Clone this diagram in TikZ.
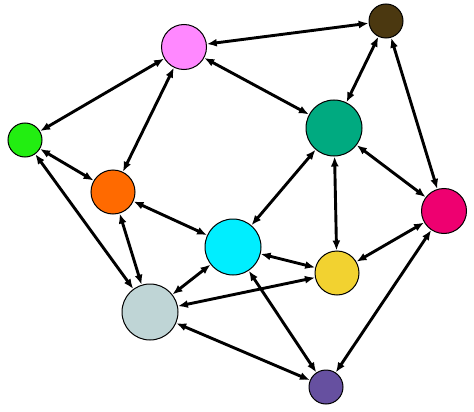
\documentclass[tikz,border=0pt]{standalone}
\usetikzlibrary{arrows.meta}
\definecolor{cpink}{HTML}{FF88FF}
\definecolor{cbrown}{HTML}{4B3810}
\definecolor{cteal}{HTML}{00AA80}
\definecolor{cgreen}{HTML}{22EE11}
\definecolor{corange}{HTML}{FF6A00}
\definecolor{cmag}{HTML}{EE0070}
\definecolor{ccyan}{HTML}{00EEFF}
\definecolor{cyellow}{HTML}{F2D230}
\definecolor{cgrey}{HTML}{BFD5D6}
\definecolor{cpurple}{HTML}{6650A0}
\tikzset{
  vert/.style={circle, draw=black, line width=1pt, inner sep=0pt, minimum size=#1},
  link/.style={line width=2.9pt, {Latex[length=10pt,width=8pt]}-{Latex[length=10pt,width=8pt]}},
}
\begin{document}
\begin{tikzpicture}[x=1pt,y=-1pt]
\useasboundingbox (0,0) rectangle (474,412);
\node[vert=45pt, fill=cpink] (pink) at (184,47) {};
\node[vert=34pt, fill=cbrown] (brown) at (386,21) {};
\node[vert=56pt, fill=cteal] (teal) at (334,128) {};
\node[vert=34pt, fill=cgreen] (green) at (25,140) {};
\node[vert=44pt, fill=corange] (orange) at (113,192) {};
\node[vert=45pt, fill=cmag] (mag) at (444,211) {};
\node[vert=56pt, fill=ccyan] (cyan) at (233,247) {};
\node[vert=44pt, fill=cyellow] (yellow) at (337,273) {};
\node[vert=56pt, fill=cgrey] (grey) at (150,312) {};
\node[vert=34pt, fill=cpurple] (purple) at (326,387) {};
\draw[link] (pink) -- (brown);
\draw[link] (pink) -- (green);
\draw[link] (pink) -- (orange);
\draw[link] (pink) -- (teal);
\draw[link] (brown) -- (teal);
\draw[link] (brown) -- (mag);
\draw[link] (teal) -- (cyan);
\draw[link] (teal) -- (yellow);
\draw[link] (teal) -- (mag);
\draw[link] (green) -- (orange);
\draw[link] (green) -- (grey);
\draw[link] (orange) -- (cyan);
\draw[link] (orange) -- (grey);
\draw[link] (cyan) -- (yellow);
\draw[link] (cyan) -- (grey);
\draw[link] (cyan) -- (purple);
\draw[link] (yellow) -- (mag);
\draw[link] (yellow) -- (grey);
\draw[link] (mag) -- (purple);
\draw[link] (grey) -- (purple);
\end{tikzpicture}
\end{document}
